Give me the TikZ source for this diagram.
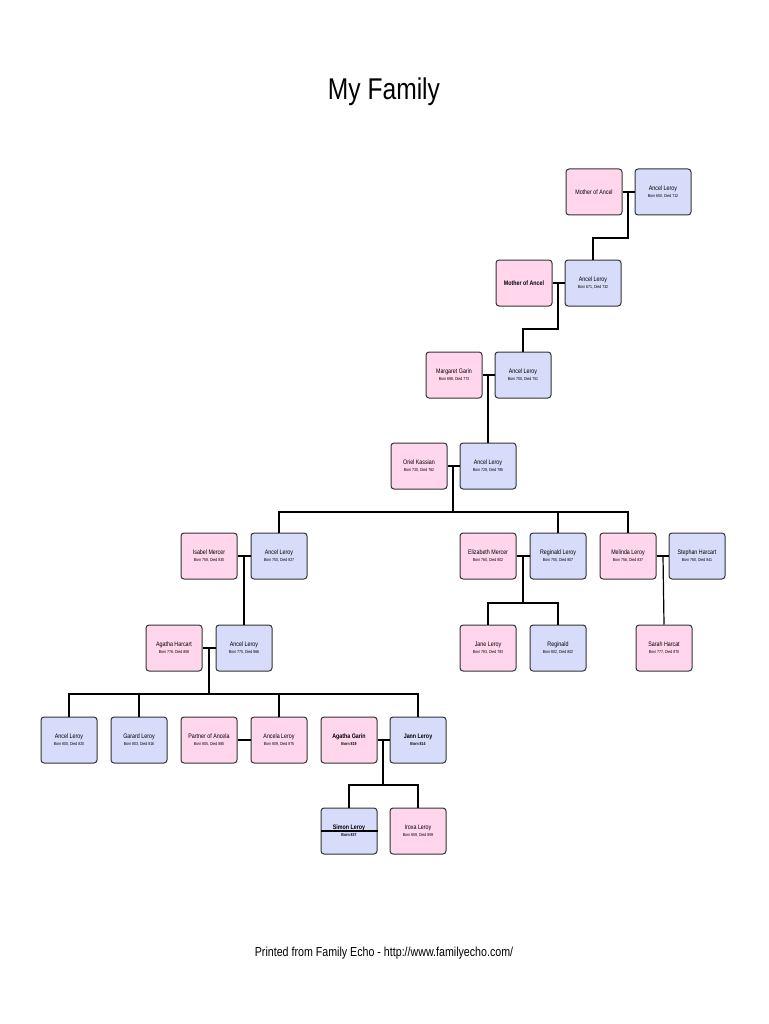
\documentclass[tikz,border=0pt]{standalone}
\usepackage{fontspec}
\setmainfont{Liberation Sans}
\newfontfamily\nar[FakeStretch=0.82]{Liberation Sans}
\definecolor{pk}{HTML}{FFD6EB}
\definecolor{bl}{HTML}{D6DCFA}
\begin{document}
\begin{tikzpicture}[x=1pt,y=-1pt,
 person/.style={draw=black!80,line width=1pt,rounded corners=3pt,minimum width=56pt,minimum height=46pt,inner sep=1pt,align=center,font=\nar\fontsize{6.5}{8}\selectfont},
 f/.style={person,fill=pk}, m/.style={person,fill=bl},
 link/.style={line width=1.2pt}, couple/.style={line width=2.6pt}]
\useasboundingbox (0,0) rectangle (768,1024);
\newcommand\dt[1]{\\[-1pt]{\fontsize{4.3}{5}\selectfont #1}}
\node[font=\nar\fontsize{30}{34}\selectfont] (title) at (384,92) {My Family};
\node[font=\nar\fontsize{13}{15}\selectfont] (foot) at (384,953) {Printed from Family Echo - http://www.familyecho.com/};
% row1
\node[f] (a1) at (594,192) {Mother of Ancel};
\node[m] (b1) at (663,192) {Ancel Leroy\dt{Born 650, Died 712}};
% row2
\node[f] (a2) at (524,283) {\bfseries Mother of Ancel};
\node[m] (b2) at (593,283) {Ancel Leroy\dt{Born 671, Died 732}};
% row3
\node[f] (a3) at (454,375) {Margaret Garin\dt{Born 698, Died 773}};
\node[m] (b3) at (523,375) {Ancel Leroy\dt{Born 700, Died 751}};
% row4
\node[f] (a4) at (419,466) {Oriel Kassian\dt{Born 730, Died 762}};
\node[m] (b4) at (488,466) {Ancel Leroy\dt{Born 729, Died 785}};
% row5
\node[f] (a5) at (209,556) {Isabel Mercer\dt{Born 758, Died 830}};
\node[m] (b5) at (279,556) {Ancel Leroy\dt{Born 750, Died 827}};
\node[f] (c5) at (488,556) {Elizabeth Mercer\dt{Born 760, Died 802}};
\node[m] (d5) at (558,556) {Reginald Leroy\dt{Born 755, Died 807}};
\node[f] (e5) at (628,556) {Melinda Leroy\dt{Born 756, Died 837}};
\node[m] (g5) at (697,556) {Stephan Harcart\dt{Born 760, Died 841}};
% row6
\node[f] (a6) at (174,648) {Agatha Harcart\dt{Born 776, Died 858}};
\node[m] (b6) at (244,648) {Ancel Leroy\dt{Born 775, Died 866}};
\node[f] (c6) at (488,648) {Jane Leroy\dt{Born 783, Died 783}};
\node[m] (d6) at (558,648) {Reginald\dt{Born 802, Died 802}};
\node[f] (e6) at (664,648) {Sarah Harcat\dt{Born 777, Died 870}};
% row7
\node[m] (r1) at (69,740) {Ancel Leroy\dt{Born 800, Died 820}};
\node[m] (r2) at (139,740) {Garard Leroy\dt{Born 803, Died 816}};
\node[f] (r3) at (209,740) {Partner of Ancela\dt{Born 805, Died 880}};
\node[f] (r4) at (279,740) {Ancela Leroy\dt{Born 809, Died 875}};
\node[f] (r5) at (349,740) {\bfseries Agatha Garin\dt{\bfseries Born 819}};
\node[m] (r6) at (418,740) {\bfseries Jann Leroy\dt{\bfseries Born 814}};
% row8
\node[m] (s1) at (349,831) {\bfseries Simon Leroy\dt{\bfseries Born 837}};
\node[f] (s2) at (418,831) {Iroxa Leroy\dt{Born 859, Died 859}};
% couples
\foreach \p/\q in {a1/b1,a2/b2,a3/b3,a4/b4,a5/b5,c5/d5,e5/g5,a6/b6,r3/r4,r5/r6,s1/s1}{
 \draw[couple] (\p.east) -- (\q.west);}
% descent
\draw[link] (628,192) -- (628,238) -| (b2.north);
\draw[link] (558,283) -- (558,329) -| (b3.north);
\draw[link] (488,375) -- (b4.north);
\draw[link] (453,466) -- (453,512);
\draw[link] (b5.north) |- (628,512) -- (e5.north);
\draw[link] (558,512) -- (d5.north);
\draw[link] (244,556) -- (b6.north);
\draw[link] (523,556) -- (523,603);
\draw[link] (c6.north) |- (d6.north |- 0,603) -- (d6.north);
\draw[link] (663,556) -- (e6.north);
\draw[link] (209,648) -- (209,694);
\draw[link] (r1.north) |- (418,694) -- (r6.north);
\draw[link] (r2.north) -- (139,694);
\draw[link] (r4.north) -- (279,694);
\draw[link] (383,740) -- (383,785);
\draw[link] (s1.north) |- (418,785) -- (s2.north);
\end{tikzpicture}
\end{document}
